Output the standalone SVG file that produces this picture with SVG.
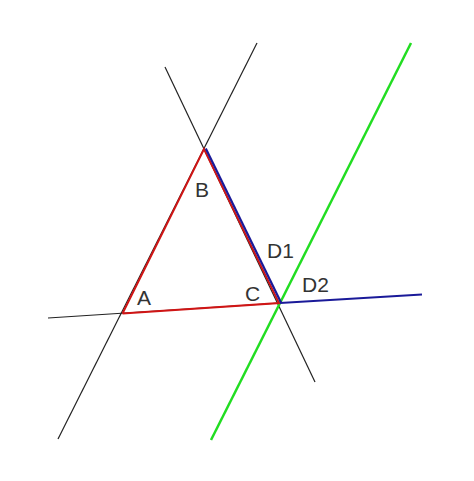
<svg xmlns="http://www.w3.org/2000/svg" width="474" height="481" viewBox="0 0 474 481">
<style>
.thin{stroke:#222;stroke-width:1.2;fill:none}
.red{stroke:#d01515;stroke-width:2;fill:none}
.blue{stroke:#1a1a99;stroke-width:2.2;fill:none}
.green{stroke:#22dd22;stroke-width:2.5;fill:none}
text{font-family:"Liberation Sans",Arial,sans-serif;font-size:21px;fill:#333}
</style>
<rect width="474" height="481" fill="#fff"/>
<g id="connectors">
<line class="thin" x1="58" y1="439" x2="257" y2="43"/>
<line class="thin" x1="165" y1="67" x2="315" y2="382"/>
<line class="thin" x1="48" y1="318" x2="280" y2="303"/>
<line class="green" x1="411" y1="43" x2="211" y2="440"/>
<polyline class="red" points="122.5,313.5 204,149 279,303 122.5,313.5"/>
<line class="blue" x1="280" y1="303" x2="422" y2="294.5"/>
<line class="blue" x1="205.8" y1="148.6" x2="281" y2="302.6"/>
</g>
<g id="A"><text x="137" y="305">A</text></g>
<g id="B"><text x="195" y="197">B</text></g>
<g id="C"><text x="245" y="301">C</text></g>
<g id="D1"><text x="267" y="258">D1</text></g>
<g id="D2"><text x="302" y="292">D2</text></g>
</svg>
